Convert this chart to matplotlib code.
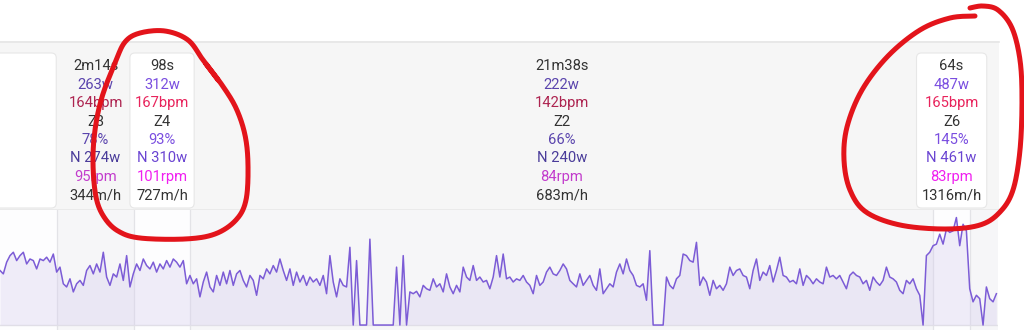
import numpy as np
import matplotlib
matplotlib.use("Agg")
import matplotlib.pyplot as plt
from matplotlib.patches import FancyBboxPatch, Rectangle

# ---------------- data ----------------
# power samples (W), one every SAMPLE_SEC seconds across the visible window
power = [
    275, 258, 317, 350, 367, 325, 350, 367, 308, 333, 325, 283, 333, 325, 342, 317, 358, 267, 292, 208,
    192, 233, 167, 208, 225, 200, 275, 300, 258, 308, 267, 367, 242, 200, 258, 242, 308, 225, 350, 192,
    258, 308, 275, 333, 300, 283, 317, 267, 308, 283, 325, 292, 333,
    317, 292, 325, 208, 250, 208, 233, 142, 217, 267, 192, 167, 250, 200, 267, 208, 275, 200, 258, 275,
    225, 192, 250, 225, 150, 250, 233, 283, 258, 300, 267, 333, 275, 225, 283, 200, 267, 217, 250, 200,
    242, 217, 233, 200, 250, 158, 350, 217, 142, 233, 200,
    192, 392, 0, 325, 0, 0, 0, 433, 0, 0, 0, 0, 0, 0, 0, 292, 0, 350, 0, 167,
    158, 170, 142, 200, 183, 175, 233, 192, 208, 167, 258, 192, 158, 200, 167, 292, 242, 225, 300, 225,
    242, 217, 225, 183, 242, 350, 242, 358, 233, 242, 217,
    233, 225, 250, 217, 200, 158, 250, 200, 217, 267, 292, 258, 250, 275, 308, 283, 225, 208, 192, 258,
    200, 225, 250, 200, 175, 283, 158, 183, 208, 192, 267, 308, 258, 333, 275, 250, 200, 192, 208, 125,
    375, 0, 0, 0, 0, 242, 200, 183, 233, 250, 358,
    350, 325, 317, 417, 200, 242, 217, 150, 225, 183, 200, 175, 208, 292, 250, 275, 283, 250, 242, 183,
    275, 333, 225, 267, 250, 300, 217, 275, 342, 250, 242, 217, 225, 208, 283, 200, 250, 233, 208, 233,
    217, 208, 292, 242, 250, 233, 250, 217, 183, 250, 267,
    250, 242, 208, 225, 175, 242, 217, 200, 225, 292, 242, 233, 217, 175, 158, 225, 208, 233, 183, 150,
    0, 350, 367, 400, 408, 458, 408, 483, 467, 475, 542, 400, 508, 475, 183, 117, 150, 133, 0, 192,
    133, 117, 158,
]
SAMPLE_SEC = 5.82
VIEW_SEC = 1743

# intervals (seconds within the visible window)
interval_start = [-60, 100, 234, 332, 1630]
interval_end = [100, 234, 332, 1630, 1694]
highlighted = [True, False, True, False, True]
durations = ["", "2m14s", "98s", "21m38s", "64s"]
avg_watts = ["", "263w", "312w", "222w", "487w"]
avg_hr = ["", "164bpm", "167bpm", "142bpm", "165bpm"]
zones = ["", "Z3", "Z4", "Z2", "Z6"]
pct_ftp = ["", "78%", "93%", "66%", "145%"]
norm_watts = ["", "N 274w", "N 310w", "N 240w", "N 461w"]
cadence = ["", "95rpm", "101rpm", "84rpm", "83rpm"]
climb = ["", "344m/h", "727m/h", "683m/h", "1316m/h"]

# hand-drawn red annotation loops (figure pixel coords)
loop1 = [(218, 80), (203, 60), (188, 40), (165, 31), (140, 33), (125, 42), (115, 63), (102, 97),
         (95, 130), (93, 163), (96, 197), (104, 217), (118, 231), (140, 238), (185, 239), (215, 234),
         (236, 220), (246, 200), (248, 165), (245, 135), (236, 108), (222, 85), (206, 64)]
loop2 = [(975, 16), (950, 18), (920, 30), (888, 56), (862, 90), (847, 127), (844, 160), (850, 190),
         (866, 212), (900, 225), (945, 229), (980, 225), (1000, 212), (1013, 190), (1020, 150),
         (1022, 100), (1020, 60), (1012, 28), (998, 10), (983, 6), (970, 8)]

# ---------------- drawing ----------------
W, H = 1024, 330
CHART_W = 998
PANEL_TOP, PANEL_BOT = 41, 209
FONT = ["Roboto", "DejaVu Sans"]

fig = plt.figure(figsize=(W / 100, H / 100), dpi=100)
fig.patch.set_facecolor("white")

bg = fig.add_axes([0, 0, 1, 1], zorder=0)
bg.set_xlim(0, W)
bg.set_ylim(H, 0)
bg.axis("off")

# top panel
bg.add_patch(Rectangle((0, PANEL_TOP), CHART_W + 1, PANEL_BOT - PANEL_TOP, fc="#f6f6f6", ec="none"))
bg.plot([0, CHART_W + 1], [PANEL_TOP + 0.5, PANEL_TOP + 0.5], color="#e6e6e6", lw=1.2)

sec2px = CHART_W / VIEW_SEC

box_colors = ["#333333", "#7a4ee0", "#e8245c", "#333333", "#7a4ee0", "#6a44d2", "#f020f0", "#333333"]
plain_colors = ["#333333", "#5a44ad", "#ad2450", "#333333", "#5a44ad", "#4a3c9a", "#c23ccc", "#333333"]

texts_per_interval = []
for i in range(len(durations)):
    lines = [durations[i], avg_watts[i], avg_hr[i], zones[i], pct_ftp[i], norm_watts[i], cadence[i], climb[i]]
    cx = (interval_start[i] + interval_end[i]) / 2 * sec2px
    cols = box_colors if highlighted[i] else plain_colors
    tl = []
    for j, (s, c) in enumerate(zip(lines, cols)):
        if not s:
            continue
        t = bg.text(cx, 70.5 + 18.4 * j, s, ha="center", va="baseline", color=c,
                    fontsize=10.6, family=FONT, zorder=5)
        tl.append(t)
    texts_per_interval.append((cx, tl))

fig.canvas.draw()
renderer = fig.canvas.get_renderer()
for i, (cx, tl) in enumerate(texts_per_interval):
    if not highlighted[i]:
        continue
    if tl:
        maxw = max(t.get_window_extent(renderer).width for t in tl)
        x0, x1 = cx - maxw / 2 - 5, cx + maxw / 2 + 5
    else:
        x0, x1 = -10, interval_end[i] * sec2px - 1
    bg.add_patch(FancyBboxPatch((x0, 53), x1 - x0, PANEL_BOT - 54,
                                boxstyle="round,pad=0,rounding_size=5",
                                fc="white", ec="#e7e7e7", lw=0.8, zorder=2))

bg.plot([0, CHART_W + 1], [PANEL_BOT + 0.5, PANEL_BOT + 0.5], color="#e6e6e6", lw=1.2, zorder=3)

# chart
ax = fig.add_axes([0, 0, CHART_W / W, (H - PANEL_BOT - 1) / H], zorder=1)
ax.patch.set_visible(False)
t = np.arange(len(power)) * SAMPLE_SEC
ax.set_xlim(0, VIEW_SEC)
ax.set_ylim(-25, 580)
ax.axis("off")
ax.axvspan(0, VIEW_SEC, color="#f6f6f8", lw=0, zorder=0)
for s, e, h in zip(interval_start, interval_end, highlighted):
    if h:
        ax.axvspan(max(s, 0), e, color="#fdfdfe", lw=0, zorder=0.5)
for b in interval_end:
    ax.axvline(b, color="#e3e3e7", lw=0.9, zorder=1)
ax.axhline(0, color="#e3e3e6", lw=1.0, zorder=1)
ax.fill_between(t, power, 0, color="#d6cdef", alpha=0.35, lw=0, zorder=2)
ax.plot(t, power, color="#7c5cd6", lw=1.1, zorder=3)

# red annotation loops
ov = fig.add_axes([0, 0, 1, 1], zorder=4)
ov.set_xlim(0, W)
ov.set_ylim(H, 0)
ov.axis("off")


def catmull(pts, n=16):
    P = np.asarray(pts, float)
    P = np.vstack([P[0], P, P[-1]])
    out = []
    for k in range(1, len(P) - 2):
        p0, p1, p2, p3 = P[k - 1], P[k], P[k + 1], P[k + 2]
        for s in np.linspace(0, 1, n, endpoint=False):
            out.append(0.5 * (2 * p1 + (-p0 + p2) * s + (2 * p0 - 5 * p1 + 4 * p2 - p3) * s ** 2
                              + (-p0 + 3 * p1 - 3 * p2 + p3) * s ** 3))
    out.append(P[-2])
    return np.array(out)


for loop in (loop1, loop2):
    c = catmull(loop)
    ov.plot(c[:, 0], c[:, 1], color="#e3141b", lw=3.6, solid_capstyle="round", solid_joinstyle="round")

fig.savefig("out.png", dpi=100)
